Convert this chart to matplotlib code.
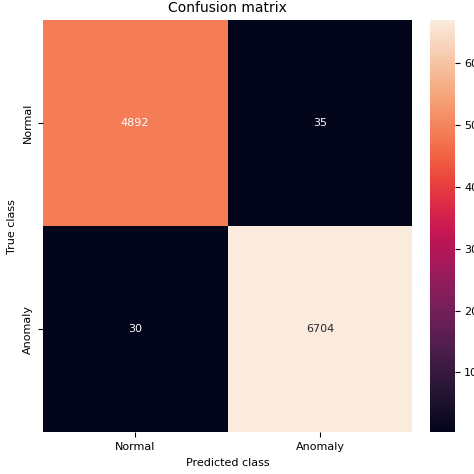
import matplotlib
matplotlib.use("Agg")
import matplotlib.pyplot as plt
import seaborn as sns
import numpy as np

labels = ["Normal", "Anomaly"]
matrix = np.array([[4892, 35], [30, 6704]])

fig = plt.figure(figsize=(4.74, 4.74), dpi=100)
ax = fig.add_axes([0.09, 0.088, 0.78, 0.87])
cax = fig.add_axes([0.907, 0.088, 0.052, 0.87])
sns.heatmap(matrix, annot=True, fmt="d", cmap="rocket", xticklabels=labels,
            yticklabels=labels, ax=ax, cbar_ax=cax, annot_kws={"fontsize": 8})
ax.set_title("Confusion matrix", fontsize=10)
ax.set_xlabel("Predicted class", fontsize=8)
ax.set_ylabel("True class", fontsize=8)
ax.tick_params(labelsize=8)
cax.tick_params(labelsize=8)
fig.savefig("out.png", dpi=100)
